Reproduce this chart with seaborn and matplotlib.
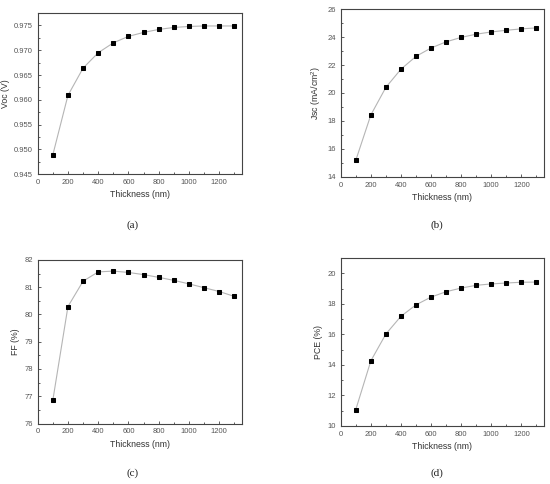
import matplotlib
matplotlib.use("Agg")
import matplotlib.pyplot as plt
import seaborn as sns
import pandas as pd
from matplotlib.ticker import MultipleLocator, AutoMinorLocator, FormatStrFormatter

# Adatok
thickness = [100, 200, 300, 400, 500, 600, 700, 800, 900, 1000, 1100, 1200, 1300]
voc = [0.9489, 0.9609, 0.9664, 0.9695, 0.9715, 0.9728, 0.9736, 0.9742, 0.9746,
       0.9748, 0.9749, 0.9749, 0.9749]
jsc = [15.17, 18.42, 20.40, 21.70, 22.62, 23.22, 23.66, 23.98, 24.21, 24.37,
       24.49, 24.59, 24.66]
ff = [76.85, 80.29, 81.22, 81.56, 81.59, 81.54, 81.46, 81.36, 81.25, 81.12,
      80.98, 80.84, 80.66]
pce = [11.07, 14.26, 16.02, 17.18, 17.93, 18.44, 18.79, 19.03, 19.21, 19.30,
       19.36, 19.41, 19.42]

ylabels = ["Voc (V)", "Jsc (mA/cm$^2$)", "FF (%)", "PCE (%)"]
captions = ["a", "b", "c", "d"]

sns.set_style("ticks")
plt.rcParams["font.family"] = ["Liberation Sans", "DejaVu Sans"]
plt.rcParams["mathtext.fontset"] = "custom"
plt.rcParams["mathtext.rm"] = "Liberation Sans"

df = pd.DataFrame({"Thickness": thickness, "Voc": voc, "Jsc": jsc, "FF": ff, "PCE": pce})

fig = plt.figure(figsize=(5.5, 4.84), dpi=100)

# tengelyek helye (bal, alsó, szélesség, magasság)
boxes = [
    [0.0685, 0.640, 0.3715, 0.333],
    [0.6195, 0.635, 0.3695, 0.346],
    [0.0685, 0.125, 0.3715, 0.338],
    [0.6195, 0.120, 0.3695, 0.347],
]
cols = ["Voc", "Jsc", "FF", "PCE"]
ylims = [(0.945, 0.9775), (14, 26), (76, 82), (10, 21)]
ysteps = [0.005, 2, 1, 2]
cap_pos = [(133, 225), (437, 225), (133, 473), (437, 473)]

for i in range(4):
    ax = fig.add_axes(boxes[i])
    sns.lineplot(data=df, x="Thickness", y=cols[i], ax=ax, color="#b5b5b5",
                 linewidth=0.8, marker="s", markersize=3,
                 markerfacecolor="black", markeredgecolor="black")
    ax.set_xlim(0, 1350)
    ax.set_ylim(*ylims[i])
    ax.xaxis.set_major_locator(MultipleLocator(200))
    ax.xaxis.set_minor_locator(AutoMinorLocator(2))
    ax.yaxis.set_major_locator(MultipleLocator(ysteps[i]))
    ax.yaxis.set_minor_locator(AutoMinorLocator(2))
    if i == 0:
        ax.yaxis.set_major_formatter(FormatStrFormatter("%.3f"))
    ax.tick_params(which="both", direction="in", labelsize=5.5, color="#444444",
                   labelcolor="#555555", width=0.6)
    ax.tick_params(which="major", length=2.5)
    ax.tick_params(which="minor", length=1.5)
    for s in ax.spines.values():
        s.set_visible(True)
        s.set_color("#444444")
        s.set_linewidth(0.8)
    ax.set_xlabel("Thickness (nm)", fontsize=6.3, color="#333333", labelpad=3)
    ax.set_ylabel(ylabels[i], fontsize=6.3, color="#333333", labelpad=3)
    x, y = cap_pos[i]
    fig.text(x / 550, 1 - y / 484, "(" + captions[i] + ")", ha="center", va="center",
             fontsize=8, family=["Liberation Serif", "DejaVu Serif"], color="#222222")

fig.savefig("out.png", dpi=100)
